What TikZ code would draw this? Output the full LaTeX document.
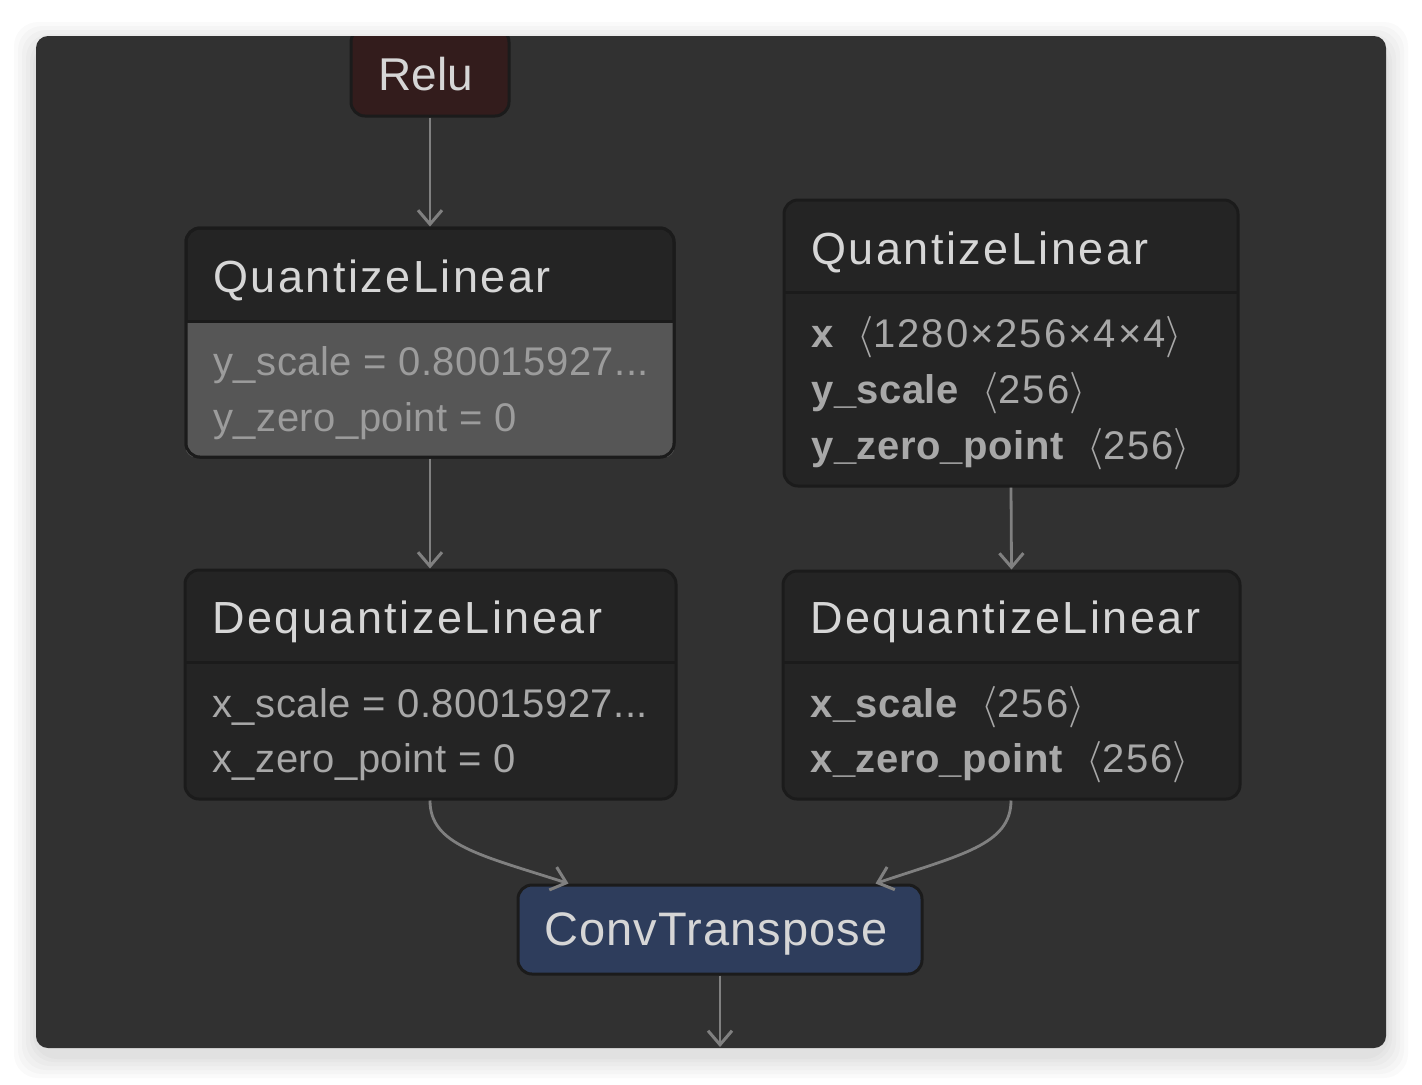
\documentclass[tikz,border=0pt]{standalone}
\usepackage{fontspec}
\setmainfont{Liberation Sans}
\usetikzlibrary{arrows.meta,calc}
\definecolor{canvasbg}{HTML}{313131}
\definecolor{headbg}{HTML}{242424}
\definecolor{attrbg}{HTML}{565656}
\definecolor{edgeline}{HTML}{1B1B1B}
\definecolor{relufill}{HTML}{331C1C}
\definecolor{convfill}{HTML}{2E3D5C}
\definecolor{titletext}{HTML}{D6D6D6}
\definecolor{dimtext}{HTML}{9C9C9C}
\definecolor{attrtext}{HTML}{A8A8A8}
\definecolor{wire}{HTML}{808080}
\tikzset{
  opbox/.style={draw=edgeline, line width=1.5pt, fill=headbg, rounded corners=7pt, inner sep=0pt},
  optitle/.style={anchor=west, inner sep=0pt, text=titletext, font=\fontsize{22.5}{26}\selectfont\addfontfeatures{LetterSpace=5.5}},
  attrline/.style={anchor=west, inner sep=0pt, text=attrtext, font=\fontsize{20}{24}\selectfont\addfontfeatures{LetterSpace=1.2}},
  divline/.style={draw=edgeline, line width=1.5pt},
  wirearrow/.style={draw=wire, line width=1.4pt, -{Straight Barb[length=7pt,width=12pt,line width=1.5pt]}}
}
\newcommand{\shp}[1]{\ensuremath{\langle}{\addfontfeatures{LetterSpace=5}#1}\ensuremath{\rangle}}
\begin{document}
\begin{tikzpicture}[x=0.5pt,y=-0.5pt]
\useasboundingbox (0,0) rectangle (1422,1084);
\fill[white] (0,0) rectangle (1422,1084);
% soft shadow round the window
\foreach \s in {22,18,14,10,6,3}
  \fill[black, opacity=0.02, rounded corners=12pt] (36-\s,36-\s+8) rectangle (1386+\s,1048+\s+8);
\fill[canvasbg, rounded corners=6pt] (36,36) rectangle (1386,1048);
\begin{scope}
\clip[rounded corners=6pt] (36,36) rectangle (1386,1048);

% nodes
\node[opbox, fill=relufill, minimum width=79pt, minimum height=44pt] (relu) at (430,72) {};
\node[text=titletext, font=\fontsize{23}{26}\selectfont, inner sep=0pt] (relutext) at (426,74) {Relu};

\node[opbox, minimum width=244pt, minimum height=114.5pt] (quant1) at (430,342.5) {};
\begin{scope}
\clip[rounded corners=7pt] (quant1.south west) rectangle (quant1.north east);
\fill[attrbg] (186,321) rectangle (674,457);
\end{scope}
\node[opbox, fill=none, minimum width=244pt, minimum height=114.5pt] at (430,342.5) {};
\path[divline] (186,321) -- (674,321);
\node[optitle] (quant1title) at (213,280) {QuantizeLinear};
\node[attrline, text=dimtext] (quant1a) at (213,365) {y\_scale = 0.80015927...};
\node[attrline, text=dimtext] (quant1b) at (213,421) {y\_zero\_point = 0};

\node[opbox, minimum width=245.5pt, minimum height=114.5pt] (dequant1) at (430.5,684.5) {};
\path[divline] (185,662) -- (676,662);
\node[optitle] (dequant1title) at (212,622) {DequantizeLinear};
\node[attrline] (dequant1a) at (212,707) {x\_scale = 0.80015927...};
\node[attrline] (dequant1b) at (212,762) {x\_zero\_point = 0};

\node[opbox, minimum width=227pt, minimum height=143pt] (quant2) at (1011,343) {};
\path[divline] (784,292) -- (1238,292);
\node[optitle] (quant2title) at (811,252) {QuantizeLinear};
\node[attrline] (quant2a) at (811,337) {\textbf{x}\ \ \shp{1280×256×4×4}};
\node[attrline] (quant2b) at (811,393) {\textbf{y\_scale}\ \ \shp{256}};
\node[attrline] (quant2c) at (811,449) {\textbf{y\_zero\_point}\ \ \shp{256}};

\node[opbox, minimum width=228.5pt, minimum height=114pt] (dequant2) at (1011.5,685) {};
\path[divline] (783,662) -- (1240,662);
\node[optitle] (dequant2title) at (810,622) {DequantizeLinear};
\node[attrline] (dequant2a) at (810,707) {\textbf{x\_scale}\ \ \shp{256}};
\node[attrline] (dequant2b) at (810,762) {\textbf{x\_zero\_point}\ \ \shp{256}};

\node[opbox, fill=convfill, minimum width=202pt, minimum height=44.5pt] (convt) at (720,929.5) {};
\node[text=titletext, font=\fontsize{23.5}{26}\selectfont\addfontfeatures{LetterSpace=2.3}, inner sep=0pt] (convttext) at (716,934) {ConvTranspose};
\coordinate (convtout) at (720,1047);

% edges
\path[wirearrow] (relu.south) -- (quant1.north);
\path[wirearrow] (quant1.south) -- ([xshift=-0.25pt]dequant1.north);
\path[wirearrow] (quant2.south) -- (dequant2.north);
\path[wirearrow] ([xshift=-0.25pt]dequant1.south) .. controls (430,845) and (480,855) .. ([xshift=26pt]convt.north west);
\path[wirearrow] ([xshift=-0.25pt]dequant2.south) .. controls (1011,845) and (960,855) .. ([xshift=-24pt]convt.north east);
\path[wirearrow] (convt.south) -- (convtout);
\end{scope}
\end{tikzpicture}
\end{document}
